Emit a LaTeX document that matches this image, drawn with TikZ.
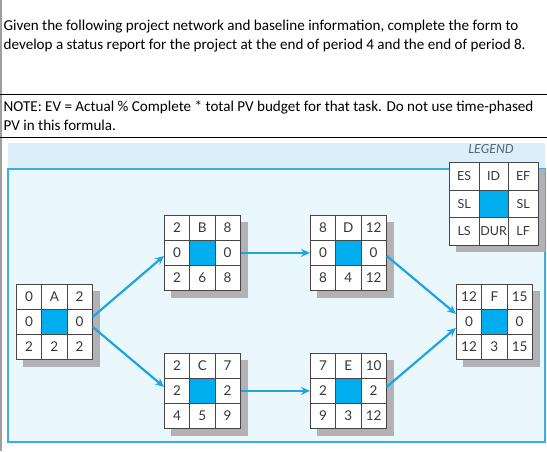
\documentclass[tikz,border=0pt]{standalone}
\usepackage{fontspec}
\setmainfont{Carlito}
\newfontfamily\cellfont{Lato}
\usetikzlibrary{arrows.meta,matrix,shadows}
\definecolor{cyanfill}{RGB}{0,174,239}
\definecolor{arrowc}{RGB}{30,165,225}
\definecolor{panelA}{RGB}{218,239,250}
\definecolor{panelB}{RGB}{234,247,253}
\definecolor{panelline}{RGB}{55,175,225}
\definecolor{shadowc}{RGB}{178,178,182}
\definecolor{celltext}{RGB}{55,55,55}
\definecolor{cellline}{RGB}{70,70,70}
\definecolor{legendc}{RGB}{80,100,120}
\tikzset{
  actbox/.style={matrix of nodes, nodes in empty cells, inner sep=0pt, outer sep=0pt,
    fill=white, anchor=north west,
    drop shadow={shadow xshift=7pt, shadow yshift=-7pt, fill=shadowc, opacity=1},
    column sep=-0.8pt, row sep=-0.8pt,
    nodes={draw=cellline, line width=0.8pt, minimum width=25.3pt, minimum height=25pt,
      inner sep=0pt, outer sep=0pt, anchor=center, text=celltext,
      font=\cellfont\fontsize{13.5}{13.5}\selectfont}},
  legbox/.style={actbox, nodes={minimum width=29.5pt, minimum height=27.5pt,
      font=\cellfont\fontsize{12.5}{12.5}\selectfont}},
  midcell/.style={fill=cyanfill},
  conn/.style={draw=arrowc, line width=2.2pt, -{Stealth[length=9pt,width=8pt]}},
  toptext/.style={anchor=base west, inner sep=0pt, font=\fontsize{15.1}{17}\selectfont}
}
\begin{document}
\begin{tikzpicture}[x=1pt,y=-1pt]
\useasboundingbox (0,0) rectangle (547,451);
\fill[white] (0,0) rectangle (547,451);
\draw[gray!75, line width=1.5pt] (1,0) -- (1,451);
\draw[black, line width=1pt] (0,94.5) -- (547,94.5);
\draw[black, line width=1pt] (0,137) -- (547,137);
\node[toptext] (t1) at (3.5,30) {Given the following project network and baseline information, complete the form to};
\node[toptext] (t2) at (3.5,49.3) {develop a status report for the project at the end of period 4 and the end of period 8.};
\node[toptext] (t3) at (3.5,111.7) {NOTE: EV = Actual \% Complete * total PV budget for that task. Do not use time-phased};
\node[toptext] (t4) at (3.5,130.7) {PV in this formula.};
% panel
\fill[panelA] (8,143) rectangle (545,442);
\draw[panelline, line width=1.3pt, fill=panelB] (8,169) rectangle (545,442);
\node[font=\cellfont\itshape\fontsize{12.5}{12.5}\selectfont, text=legendc] (legtitle) at (491,149) {LEGEND};
% legend
\matrix (L) [legbox] at (449,162) {
ES & ID & EF \\
SL & |[midcell]| & SL \\
LS & DUR & LF \\
};
% activities
\matrix (A) [actbox] at (16,284) {
0 & A & 2 \\
0 & |[midcell]| & 0 \\
2 & 2 & 2 \\
};
\matrix (B) [actbox] at (164,215) {
2 & B & 8 \\
0 & |[midcell]| & 0 \\
2 & 6 & 8 \\
};
\matrix (C) [actbox] at (164,353) {
2 & C & 7 \\
2 & |[midcell]| & 2 \\
4 & 5 & 9 \\
};
\matrix (D) [actbox] at (310,215) {
8 & D & 12 \\
0 & |[midcell]| & 0 \\
8 & 4 & 12 \\
};
\matrix (E) [actbox] at (310,353) {
7 & E & 10 \\
2 & |[midcell]| & 2 \\
9 & 3 & 12 \\
};
\matrix (F) [actbox] at (456,284) {
12 & F & 15 \\
0 & |[midcell]| & 0 \\
12 & 3 & 15 \\
};
% connectors
\draw[conn] ([yshift=5pt]A.east) -- ([yshift=-3pt]B.west);
\draw[conn] ([yshift=-5pt]A.east) -- ([yshift=4pt]C.west);
\draw[conn] (B.east) -- (D.west);
\draw[conn] (C.east) -- (E.west);
\draw[conn] ([yshift=-3pt]D.east) -- ([yshift=8pt]F.west);
\draw[conn] ([yshift=4pt]E.east) -- ([yshift=-6pt]F.west);
\end{tikzpicture}
\end{document}
